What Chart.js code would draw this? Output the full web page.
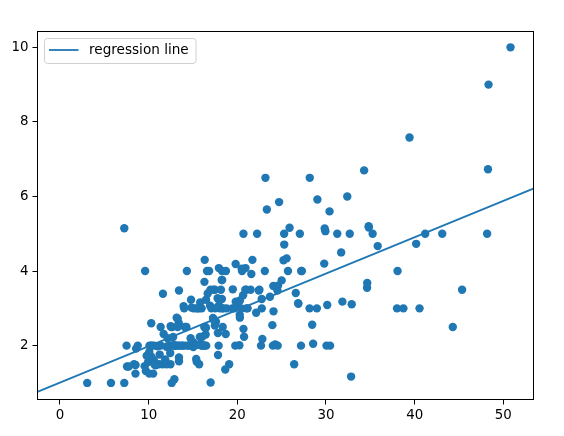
<!DOCTYPE html>
<html>
<head>
<meta charset="utf-8">
<script src="https://cdn.jsdelivr.net/npm/chart.js@4"></script>
<style>
html,body{margin:0;padding:0;background:#fff;}
#wrap{width:564px;height:436px;}
</style>
</head>
<body>
<div id="wrap"><canvas id="tipChart" width="564" height="436"></canvas></div>
<script>
// total bill (x) and tip (y) for each point
const totalBill=[
16.99,10.34,21.01,23.68,24.59,25.29,8.77,26.88,15.04,14.78,
10.27,35.26,15.42,18.43,14.83,21.58,10.33,16.29,16.97,20.65,
17.92,20.29,15.77,39.42,19.82,17.81,13.37,12.69,21.70,19.65,
9.55,18.35,15.06,20.69,17.78,24.06,16.31,16.93,18.69,31.27,
16.04,17.46,13.94,9.68,30.40,18.29,22.23,32.40,28.55,18.04,
12.54,10.29,34.81,9.94,25.56,19.49,38.01,26.41,11.24,48.27,
20.29,13.81,11.02,18.29,17.59,20.08,16.45,3.07,20.23,15.01,
12.02,17.07,26.86,25.28,14.73,10.51,17.92,27.20,22.76,17.29,
19.44,16.66,10.07,32.68,15.98,34.83,13.03,18.28,24.71,21.16,
28.97,22.49,5.75,16.32,22.75,40.17,27.28,12.03,21.01,12.46,
11.35,15.38,44.30,22.42,20.92,15.36,20.49,25.21,18.24,14.31,
14.00,7.25,38.07,23.95,25.71,17.31,29.93,10.65,12.43,24.08,
11.69,13.42,14.26,15.95,12.48,29.80,8.52,14.52,11.38,22.82,
19.08,20.27,11.17,12.26,18.26,8.51,10.33,14.15,16.00,13.16,
17.47,34.30,41.19,27.05,16.43,8.35,18.64,11.87,9.78,7.51,
14.07,13.13,17.26,24.55,19.77,29.85,48.17,25.00,13.39,16.49,
21.50,12.66,16.21,13.81,17.51,24.52,20.76,31.71,10.59,10.63,
50.81,15.81,7.25,31.85,16.82,32.90,17.89,14.48,9.60,34.63,
34.65,23.33,45.35,23.17,40.55,20.69,20.90,30.46,18.15,23.10,
15.69,19.81,28.44,15.48,16.58,7.56,10.34,43.11,13.00,13.51,
18.71,12.74,13.00,16.40,20.53,16.47,26.59,38.73,24.27,12.76,
30.06,25.89,48.33,13.27,28.17,12.90,28.15,11.59,7.74,30.14,
12.16,13.42,8.58,15.98,13.42,16.27,10.09,20.45,13.28,22.12,
24.01,15.69,11.61,10.77,15.53,10.07,12.60,32.83,35.83,29.03,
27.18,22.67,17.82,18.78
];
const tipAmount=[
1.01,1.66,3.50,3.31,3.61,4.71,2.00,3.12,1.96,3.23,
1.71,5.00,1.57,3.00,3.02,3.92,1.67,3.71,3.50,3.35,
4.08,2.75,2.23,7.58,3.18,2.34,2.00,2.00,4.30,3.00,
1.45,2.50,3.00,2.45,3.27,3.60,2.00,3.07,2.31,5.00,
2.24,2.54,3.06,1.32,5.60,3.00,5.00,6.00,2.05,3.00,
2.50,2.60,5.20,1.56,4.34,3.51,3.00,1.50,1.76,6.73,
3.21,2.00,1.98,3.76,2.64,3.15,2.47,1.00,2.01,2.09,
1.97,3.00,3.14,5.00,2.20,1.25,3.08,4.00,3.00,2.71,
3.00,3.40,1.83,5.00,2.03,5.17,2.00,4.00,5.85,3.00,
3.00,3.50,1.00,4.30,3.25,4.73,4.00,1.50,3.00,1.50,
2.50,3.00,2.50,3.48,4.08,1.64,4.06,4.29,3.76,4.00,
3.00,1.00,4.00,2.55,4.00,3.50,5.07,1.50,1.80,2.92,
2.31,1.68,2.50,2.00,2.52,4.20,1.48,2.00,2.00,2.18,
1.50,2.83,1.50,2.00,3.25,1.25,2.00,2.00,2.00,2.75,
3.50,6.70,5.00,5.00,2.30,1.50,1.36,1.63,1.73,2.00,
2.50,2.00,2.74,2.00,2.00,5.14,5.00,3.75,2.61,2.00,
3.50,2.50,2.00,2.00,3.00,3.48,2.24,4.50,1.61,2.00,
10.00,3.16,5.15,3.18,4.00,3.11,2.00,2.00,4.00,3.55,
3.68,5.65,3.50,6.50,3.00,5.00,3.50,2.00,3.50,4.00,
1.50,4.19,2.56,2.02,4.00,1.44,2.00,5.00,2.00,2.00,
4.00,2.01,2.00,2.50,4.00,3.23,3.41,3.00,2.03,2.23,
2.00,5.16,9.00,2.50,6.50,1.10,3.00,1.50,1.44,3.09,
2.20,3.48,1.92,3.00,1.58,2.50,2.00,3.00,2.72,2.88,
2.00,3.00,3.39,1.47,3.00,1.25,1.00,1.17,4.67,5.92,
2.00,2.00,1.75,3.00
];
// regression line end points, read at the plot edges
const lineX=[-2.56,53.38];
const lineY=[0.762,6.21];

const xTicks=[0,10,20,30,40,50];
const yTicks=[2,4,6,8,10];

const blue='#1f77b4';
const font={family:'"DejaVu Sans", sans-serif',size:13.4};

const points=totalBill.map((b,i)=>({x:b,y:tipAmount[i]}));
const linePts=lineX.map((x,i)=>({x:x,y:lineY[i]}));

// full black frame around the plot area
const framePlugin={
id:'frame',
afterDraw(chart){
const a=chart.chartArea,ctx=chart.ctx;
ctx.save();
ctx.strokeStyle='#000';
ctx.lineWidth=1;
ctx.strokeRect(Math.round(a.left)+0.5,Math.round(a.top)+0.5,
Math.round(a.right-a.left),Math.round(a.bottom-a.top));
ctx.restore();
}
};

// legend drawn inside upper left, like matplotlib
const innerLegend={
id:'innerLegend',
afterDraw(chart){
const ctx=chart.ctx;
const ds=chart.data.datasets[1];
const x=44.5,y=38.5,w=151.5,h=25,r=3;
ctx.save();
ctx.beginPath();
ctx.roundRect(x,y,w,h,r);
ctx.fillStyle='rgba(255,255,255,0.8)';
ctx.fill();
ctx.strokeStyle='#d0d0d0';
ctx.lineWidth=1;
ctx.stroke();
ctx.beginPath();
ctx.moveTo(49,50);
ctx.lineTo(78.5,50);
ctx.strokeStyle=blue;
ctx.lineWidth=1.8;
ctx.stroke();
ctx.fillStyle='#000';
ctx.font='13.6px "DejaVu Sans", sans-serif';
ctx.textBaseline='middle';
ctx.fillText(ds.label,89,50.5);
ctx.restore();
}
};

new Chart(
document.getElementById('tipChart'),
{
type:'scatter',
data:{
datasets:[{
label:'data',
data:points,
backgroundColor:blue,
borderColor:blue,
pointRadius:4.2,
pointHoverRadius:4.2,
borderWidth:0
},{
type:'line',
label:'regression line',
data:linePts,
borderColor:blue,
borderWidth:1.8,
pointRadius:0,
fill:false
}]
},
options:{
responsive:false,
animation:false,
layout:{padding:{left:0,right:30.7,top:31.3,bottom:0}},
plugins:{
legend:{display:false},
tooltip:{enabled:false}
},
scales:{
x:{
type:'linear',
min:lineX[0],
max:lineX[1],
afterBuildTicks(s){s.ticks=xTicks.map(v=>({value:v}));},
afterFit(s){s.height=36.3;},
grid:{display:true,drawOnChartArea:false,drawTicks:true,tickLength:4.8,tickColor:'#000'},
border:{display:true,color:'#000'},
ticks:{color:'#000',font:font,padding:3,maxRotation:0}
},
y:{
type:'linear',
min:0.55,
max:10.43,
afterBuildTicks(s){s.ticks=yTicks.map(v=>({value:v}));},
afterFit(s){s.width=37.3;},
grid:{display:true,drawOnChartArea:false,drawTicks:true,tickLength:4.8,tickColor:'#000'},
border:{display:true,color:'#000'},
ticks:{color:'#000',font:font,padding:4}
}
}
},
plugins:[framePlugin,innerLegend]
}
);
</script>
</body>
</html>
